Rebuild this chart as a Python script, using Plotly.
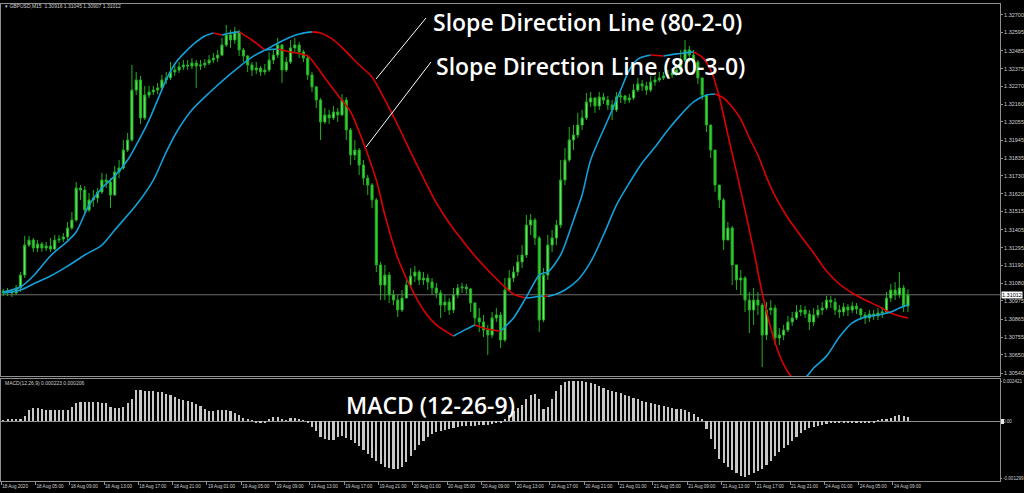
import pandas as pd
import plotly.graph_objects as go

# ---------------- data ----------------
times = list(pd.date_range("2020-08-18 01:15", periods=190, freq="30min")) + \
        list(pd.date_range("2020-08-24 00:15", periods=22, freq="30min"))

open_ = [1.31023, 1.31035, 1.31029, 1.31023, 1.31053, 1.31131, 1.31312, 1.31342, 1.31294, 1.31318,
         1.31294, 1.31306, 1.31288, 1.31342, 1.31348, 1.31361, 1.31415, 1.31463, 1.31656, 1.31644,
         1.31523, 1.31584, 1.31596, 1.31632, 1.31704, 1.31692, 1.31614, 1.31753, 1.31777, 1.31885,
         1.31946, 1.32247, 1.32308, 1.32078, 1.32217, 1.32235, 1.32247, 1.32260, 1.32308, 1.32320,
         1.32356, 1.32368, 1.32386, 1.32398, 1.32392, 1.32410, 1.32392, 1.32398, 1.32410, 1.32428,
         1.32440, 1.32458, 1.32519, 1.32580, 1.32549, 1.32598, 1.32489, 1.32452, 1.32398, 1.32368,
         1.32380, 1.32356, 1.32368, 1.32428, 1.32458, 1.32519, 1.32368, 1.32416, 1.32501, 1.32519,
         1.32477, 1.32440, 1.32338, 1.32266, 1.32187, 1.32054, 1.32097, 1.32079, 1.32115, 1.32097,
         1.32187, 1.32006, 1.31855, 1.31885, 1.31795, 1.31716, 1.31674, 1.31584, 1.31192, 1.31071,
         1.31131, 1.31011, 1.30980, 1.30920, 1.30992, 1.31071, 1.31125, 1.31149, 1.31101, 1.31113,
         1.31089, 1.31053, 1.31023, 1.30950, 1.30968, 1.30920, 1.31011, 1.31053, 1.31059, 1.31047,
         1.30962, 1.30872, 1.30848, 1.30799, 1.30769, 1.30872, 1.30890, 1.30739, 1.31041, 1.31113,
         1.31149, 1.31210, 1.31252, 1.31433, 1.31463, 1.31355, 1.30860, 1.31131, 1.31312, 1.31355,
         1.31433, 1.31704, 1.31825, 1.31946, 1.31976, 1.32036, 1.32079, 1.32175, 1.32199, 1.32151,
         1.32205, 1.32187, 1.32157, 1.32127, 1.32205, 1.32211, 1.32187, 1.32199, 1.32247, 1.32284,
         1.32272, 1.32247, 1.32296, 1.32308, 1.32320, 1.32332, 1.32338, 1.32350, 1.32368, 1.32428,
         1.32489, 1.32458, 1.32416, 1.32320, 1.32217, 1.32036, 1.31885, 1.31674, 1.31584, 1.31342,
         1.31415, 1.31192, 1.31101, 1.31113, 1.30980, 1.30920, 1.30980, 1.30950, 1.30769, 1.30920,
         1.30932, 1.30751, 1.30769, 1.30799, 1.30848, 1.30872, 1.30908, 1.30920, 1.30896, 1.30848,
         1.30890, 1.30920, 1.30932, 1.30980, 1.30968, 1.30920, 1.30908, 1.30938, 1.30920, 1.30944,
         1.30926, 1.30890, 1.30872, 1.30896, 1.30884, 1.30902, 1.30908, 1.30992, 1.31041, 1.31011,
         1.31053, 1.30944]

high = [1.31047, 1.31053, 1.31047, 1.31071, 1.31149, 1.31367, 1.31367, 1.31355, 1.31342, 1.31330,
        1.31330, 1.31355, 1.31373, 1.31373, 1.31385, 1.31451, 1.31511, 1.31692, 1.31674, 1.31668,
        1.31626, 1.31644, 1.31656, 1.31747, 1.31741, 1.31716, 1.31789, 1.31825, 1.31946, 1.31988,
        1.32398, 1.32356, 1.32332, 1.32272, 1.32272, 1.32272, 1.32290, 1.32338, 1.32356, 1.32416,
        1.32404, 1.32416, 1.32428, 1.32428, 1.32440, 1.32428, 1.32428, 1.32434, 1.32458, 1.32470,
        1.32489, 1.32562, 1.32640, 1.32610, 1.32628, 1.32610, 1.32501, 1.32458, 1.32416, 1.32416,
        1.32392, 1.32404, 1.32477, 1.32489, 1.32562, 1.32525, 1.32446, 1.32549, 1.32562, 1.32537,
        1.32489, 1.32452, 1.32356, 1.32272, 1.32199, 1.32139, 1.32127, 1.32151, 1.32139, 1.32223,
        1.32205, 1.32018, 1.31946, 1.31897, 1.31825, 1.31735, 1.31686, 1.31596, 1.31210, 1.31192,
        1.31149, 1.31041, 1.31011, 1.31041, 1.31101, 1.31173, 1.31185, 1.31161, 1.31149, 1.31137,
        1.31113, 1.31083, 1.31041, 1.31011, 1.30992, 1.31053, 1.31077, 1.31083, 1.31077, 1.31053,
        1.30968, 1.30932, 1.30890, 1.30830, 1.30908, 1.30932, 1.30908, 1.31113, 1.31161, 1.31185,
        1.31252, 1.31312, 1.31493, 1.31499, 1.31475, 1.31367, 1.31173, 1.31373, 1.31403, 1.31463,
        1.31825, 1.31897, 1.32024, 1.32036, 1.32109, 1.32127, 1.32229, 1.32235, 1.32205, 1.32235,
        1.32229, 1.32211, 1.32187, 1.32235, 1.32235, 1.32217, 1.32223, 1.32284, 1.32320, 1.32308,
        1.32296, 1.32332, 1.32332, 1.32356, 1.32356, 1.32368, 1.32380, 1.32392, 1.32489, 1.32549,
        1.32513, 1.32489, 1.32428, 1.32320, 1.32217, 1.32036, 1.31885, 1.31674, 1.31596, 1.31451,
        1.31427, 1.31192, 1.31161, 1.31125, 1.31029, 1.31053, 1.31029, 1.30962, 1.30968, 1.30980,
        1.30950, 1.30811, 1.30830, 1.30884, 1.30908, 1.30950, 1.30950, 1.30944, 1.30920, 1.30932,
        1.30950, 1.30968, 1.31005, 1.31005, 1.30992, 1.30950, 1.30962, 1.30956, 1.30968, 1.30962,
        1.30932, 1.30908, 1.30920, 1.30920, 1.30932, 1.30938, 1.31029, 1.31077, 1.31089, 1.31149,
        1.31071, 1.31045]

low = [1.31005, 1.31005, 1.30999, 1.31011, 1.31029, 1.31113, 1.31300, 1.31270, 1.31270, 1.31270,
       1.31276, 1.31270, 1.31282, 1.31324, 1.31330, 1.31342, 1.31403, 1.31451, 1.31584, 1.31505,
       1.31511, 1.31542, 1.31566, 1.31620, 1.31656, 1.31535, 1.31608, 1.31716, 1.31765, 1.31873,
       1.31934, 1.32217, 1.32042, 1.32066, 1.32199, 1.32217, 1.32223, 1.32247, 1.32284, 1.32308,
       1.32332, 1.32350, 1.32368, 1.32368, 1.32374, 1.32260, 1.32368, 1.32380, 1.32398, 1.32410,
       1.32416, 1.32452, 1.32507, 1.32501, 1.32525, 1.32452, 1.32416, 1.32356, 1.32332, 1.32344,
       1.32332, 1.32338, 1.32356, 1.32404, 1.32440, 1.32290, 1.32356, 1.32404, 1.32477, 1.32440,
       1.32416, 1.32308, 1.32235, 1.32139, 1.31946, 1.32042, 1.32042, 1.32066, 1.32054, 1.32091,
       1.31946, 1.31795, 1.31825, 1.31735, 1.31674, 1.31614, 1.31535, 1.31149, 1.30980, 1.30980,
       1.30962, 1.30950, 1.30878, 1.30908, 1.30992, 1.31053, 1.31089, 1.31071, 1.31071, 1.31041,
       1.31011, 1.30992, 1.30872, 1.30908, 1.30890, 1.30902, 1.30992, 1.31023, 1.31017, 1.30908,
       1.30830, 1.30787, 1.30757, 1.30649, 1.30751, 1.30848, 1.30691, 1.30727, 1.31029, 1.31089,
       1.31125, 1.31173, 1.31234, 1.31373, 1.31312, 1.30787, 1.30848, 1.31101, 1.31270, 1.31312,
       1.31415, 1.31674, 1.31813, 1.31885, 1.31958, 1.32006, 1.32066, 1.32145, 1.32109, 1.32127,
       1.32163, 1.32127, 1.32066, 1.32115, 1.32169, 1.32163, 1.32169, 1.32187, 1.32235, 1.32241,
       1.32217, 1.32235, 1.32272, 1.32296, 1.32308, 1.32314, 1.32320, 1.32332, 1.32356, 1.32416,
       1.32416, 1.32380, 1.32284, 1.32187, 1.31994, 1.31837, 1.31632, 1.31535, 1.31282, 1.31342,
       1.31071, 1.31041, 1.31011, 1.30908, 1.30781, 1.30830, 1.30890, 1.30576, 1.30739, 1.30890,
       1.30709, 1.30709, 1.30739, 1.30787, 1.30824, 1.30860, 1.30884, 1.30872, 1.30799, 1.30824,
       1.30872, 1.30890, 1.30920, 1.30932, 1.30890, 1.30872, 1.30884, 1.30884, 1.30902, 1.30896,
       1.30860, 1.30836, 1.30848, 1.30860, 1.30860, 1.30872, 1.30896, 1.30968, 1.30980, 1.30992,
       1.30908, 1.30907]

close = [1.31035, 1.31029, 1.31023, 1.31053, 1.31131, 1.31312, 1.31342, 1.31294, 1.31318, 1.31294,
         1.31306, 1.31288, 1.31342, 1.31348, 1.31361, 1.31415, 1.31463, 1.31656, 1.31644, 1.31523,
         1.31584, 1.31596, 1.31632, 1.31704, 1.31692, 1.31614, 1.31753, 1.31777, 1.31885, 1.31946,
         1.32247, 1.32308, 1.32078, 1.32217, 1.32235, 1.32247, 1.32260, 1.32308, 1.32320, 1.32356,
         1.32368, 1.32386, 1.32398, 1.32392, 1.32410, 1.32392, 1.32398, 1.32410, 1.32428, 1.32440,
         1.32458, 1.32519, 1.32580, 1.32549, 1.32598, 1.32489, 1.32452, 1.32398, 1.32368, 1.32380,
         1.32356, 1.32368, 1.32428, 1.32458, 1.32519, 1.32368, 1.32416, 1.32501, 1.32519, 1.32477,
         1.32440, 1.32338, 1.32266, 1.32187, 1.32054, 1.32097, 1.32079, 1.32115, 1.32097, 1.32187,
         1.32006, 1.31855, 1.31885, 1.31795, 1.31716, 1.31674, 1.31584, 1.31192, 1.31071, 1.31131,
         1.31011, 1.30980, 1.30920, 1.30992, 1.31071, 1.31125, 1.31149, 1.31101, 1.31113, 1.31089,
         1.31053, 1.31023, 1.30950, 1.30968, 1.30920, 1.31011, 1.31053, 1.31059, 1.31047, 1.30962,
         1.30872, 1.30848, 1.30799, 1.30769, 1.30872, 1.30890, 1.30739, 1.31041, 1.31113, 1.31149,
         1.31210, 1.31252, 1.31433, 1.31463, 1.31355, 1.30860, 1.31131, 1.31312, 1.31355, 1.31433,
         1.31704, 1.31825, 1.31946, 1.31976, 1.32036, 1.32079, 1.32175, 1.32199, 1.32151, 1.32205,
         1.32187, 1.32157, 1.32127, 1.32205, 1.32211, 1.32187, 1.32199, 1.32247, 1.32284, 1.32272,
         1.32247, 1.32296, 1.32308, 1.32320, 1.32332, 1.32338, 1.32350, 1.32368, 1.32428, 1.32489,
         1.32458, 1.32416, 1.32320, 1.32217, 1.32036, 1.31885, 1.31674, 1.31584, 1.31342, 1.31415,
         1.31192, 1.31101, 1.31113, 1.30980, 1.30920, 1.30980, 1.30950, 1.30769, 1.30920, 1.30932,
         1.30751, 1.30769, 1.30799, 1.30848, 1.30872, 1.30908, 1.30920, 1.30896, 1.30848, 1.30890,
         1.30920, 1.30932, 1.30980, 1.30968, 1.30920, 1.30908, 1.30938, 1.30920, 1.30944, 1.30926,
         1.30890, 1.30872, 1.30896, 1.30884, 1.30902, 1.30908, 1.30992, 1.31041, 1.31011, 1.31053,
         1.30944, 1.31012]

macd_hist = [0.00003, 0.000061, 0.000061, 0.000091, 0.000121, 0.000303, 0.000666, 0.000787, 0.000787, 0.000726,
             0.000666, 0.000666, 0.000666, 0.000666, 0.000666, 0.000666, 0.000847, 0.001089, 0.00115, 0.00115,
             0.00115, 0.00115, 0.00115, 0.001089, 0.001089, 0.000847, 0.000787, 0.000787, 0.000847, 0.001089,
             0.001331, 0.001876, 0.001876, 0.001815, 0.001815, 0.001815, 0.001755, 0.001755, 0.001634, 0.001573,
             0.001452, 0.001331, 0.001271, 0.00121, 0.00115, 0.001029, 0.000908, 0.000726, 0.000605, 0.000605,
             0.000666, 0.000666, 0.000666, 0.000605, 0.000484, 0.000363, 0.000182, 0.000121, 0.00003, -0.000061,
             -0.000091, -0.000121, 0.000061, 0.000242, 0.000272, 0.000121, 0.00003, 0.000182, 0.000182, 0.000121,
             0.00003, -0.000121, -0.000363, -0.000605, -0.000968, -0.001089, -0.00115, -0.00115, -0.000968, -0.000908,
             -0.001029, -0.00115, -0.001331, -0.001513, -0.001755, -0.001997, -0.002239, -0.00242, -0.002602, -0.002783,
             -0.002844, -0.002904, -0.002904, -0.002783, -0.002481, -0.002118, -0.001755, -0.001452, -0.00121, -0.000968,
             -0.000787, -0.000666, -0.000605, -0.000545, -0.000484, -0.000424, -0.000363, -0.000303, -0.000303, -0.000303,
             -0.000303, -0.000242, -0.000242, -0.000242, -0.000182, -0.000121, -0.000121, 0.000121, 0.000363, 0.000605,
             0.000787, 0.000968, 0.001331, 0.001573, 0.001634, 0.001331, 0.000726, 0.000847, 0.001331, 0.001815,
             0.002178, 0.00236, 0.00242, 0.002421, 0.00242, 0.00242, 0.00236, 0.002299, 0.002239, 0.002118,
             0.001997, 0.001876, 0.001815, 0.001755, 0.001694, 0.001573, 0.001513, 0.001392, 0.001331, 0.00121,
             0.00115, 0.001089, 0.001029, 0.000968, 0.000908, 0.000847, 0.000787, 0.000726, 0.000726, 0.000666,
             0.000545, 0.000424, 0.000242, 0.000061, -0.000484, -0.001089, -0.001694, -0.002299, -0.002541, -0.002783,
             -0.002965, -0.003146, -0.003328, -0.003388, -0.003267, -0.003146, -0.003025, -0.002904, -0.002662, -0.00242,
             -0.002118, -0.001876, -0.001634, -0.001452, -0.00121, -0.000968, -0.000726, -0.000545, -0.000424, -0.000363,
             -0.000303, -0.000242, -0.000182, -0.000121, -0.000121, -0.000121, -0.000061, -0.000061, -0.000121, -0.000121,
             -0.000121, -0.000121, -0.000061, -0.000061, 0.00003, 0.000061, 0.000121, 0.000182, 0.000303, 0.000363,
             0.000303, 0.000223]

# Slope Direction Line (80-3-0): bar index -> value
sdl_fast_idx = [0, 4, 7, 11, 15, 17, 20, 23, 26, 29, 31, 34, 38, 40, 42, 45, 47, 49, 51, 53,
                55, 58, 61, 64, 67, 71, 73, 75, 78, 81, 84, 87, 89, 92, 95, 98, 101, 105, 108, 110,
                113, 116, 119, 122, 125, 126, 127, 130, 133, 135, 137, 141, 144, 146, 148, 151, 154, 157, 159, 161,
                163, 165, 167, 169, 171, 173, 175, 177, 179, 181, 183, 185, 187, 189, 192, 195, 198, 201, 204, 207,
                209, 211]
sdl_fast_val = [1.31029, 1.31059, 1.31125, 1.31246, 1.31336, 1.31391, 1.31553, 1.31656, 1.31728, 1.31825,
                1.31915, 1.32066, 1.32308, 1.32404, 1.32465, 1.32537, 1.32573, 1.32591, 1.32579, 1.32591,
                1.32598, 1.32549, 1.32489, 1.32495, 1.32477, 1.32452, 1.32392, 1.32320, 1.32217, 1.32115,
                1.31928, 1.31704, 1.31493, 1.31234, 1.31059, 1.30920, 1.30830, 1.30763, 1.30805, 1.30830,
                1.30805, 1.30793, 1.30872, 1.30999, 1.31131, 1.31143, 1.31149, 1.31252, 1.31463, 1.31614,
                1.31825, 1.32066, 1.32247, 1.32368, 1.32434, 1.32458, 1.32452, 1.32465, 1.32471, 1.32477,
                1.32446, 1.32368, 1.32205, 1.31976, 1.31753, 1.31523, 1.31282, 1.31023, 1.30811, 1.30649,
                1.30546, 1.30480, 1.30510, 1.30570, 1.30642, 1.30757, 1.30842, 1.30878, 1.30890, 1.30908,
                1.30932, 1.30950]

# Slope Direction Line (80-2-0)
sdl_slow_idx = [0, 4, 7, 11, 15, 19, 23, 26, 31, 35, 38, 41, 44, 48, 53, 58, 62, 65, 69, 72,
                74, 77, 80, 83, 86, 89, 92, 95, 98, 101, 104, 107, 110, 113, 116, 119, 122, 124, 126, 127,
                129, 131, 134, 137, 140, 143, 146, 149, 152, 155, 158, 161, 164, 166, 168, 170, 172, 174, 176, 178,
                180, 183, 186, 189, 192, 195, 198, 201, 204, 207, 209, 211]
sdl_slow_val = [1.31023, 1.31041, 1.31077, 1.31125, 1.31185, 1.31252, 1.31312, 1.31403, 1.31553, 1.31704,
                1.31873, 1.32018, 1.32127, 1.32229, 1.32344, 1.32446, 1.32501, 1.32543, 1.32585, 1.32598,
                1.32591, 1.32549, 1.32477, 1.32398, 1.32326, 1.32187, 1.32036, 1.31873, 1.31716, 1.31566,
                1.31445, 1.31342, 1.31246, 1.31161, 1.31083, 1.31017, 1.30992, 1.30999, 1.31005, 1.31002,
                1.31017, 1.31041, 1.31101, 1.31210, 1.31373, 1.31553, 1.31686, 1.31807, 1.31903, 1.32006,
                1.32097, 1.32175, 1.32217, 1.32223, 1.32199, 1.32145, 1.32072, 1.31958, 1.31855, 1.31722,
                1.31608, 1.31475, 1.31367, 1.31264, 1.31155, 1.31077, 1.31023, 1.30980, 1.30944, 1.30902,
                1.30884, 1.30872]

price_ticks = [1.32700, 1.32595, 1.32485, 1.32375, 1.32270, 1.32160, 1.32055, 1.31945, 1.31835, 1.31730,
               1.31620, 1.31515, 1.31405, 1.31295, 1.31190, 1.31080, 1.30975, 1.30865, 1.30755, 1.30650, 1.30540]
macd_tick_vals = [0.00242, 0.0, -0.003449]
macd_tick_text = ["0.002421", "0.00", "-0.001299"]

time_tick_vals = ["2020-08-18 01:00", "2020-08-18 05:00", "2020-08-18 09:00", "2020-08-18 13:00",
                  "2020-08-18 17:00", "2020-08-18 21:00", "2020-08-19 01:00", "2020-08-19 05:00",
                  "2020-08-19 09:00", "2020-08-19 13:00", "2020-08-19 17:00", "2020-08-19 21:00",
                  "2020-08-20 01:00", "2020-08-20 05:00", "2020-08-20 09:00", "2020-08-20 13:00",
                  "2020-08-20 17:00", "2020-08-20 21:00", "2020-08-21 01:00", "2020-08-21 05:00",
                  "2020-08-21 09:00", "2020-08-21 13:00", "2020-08-21 17:00", "2020-08-21 21:00",
                  "2020-08-24 01:00", "2020-08-24 05:00", "2020-08-24 09:00"]
time_tick_text = ["18 Aug 2020", "18 Aug 05:00", "18 Aug 09:00", "18 Aug 13:00", "18 Aug 17:00",
                  "18 Aug 21:00", "19 Aug 01:00", "19 Aug 05:00", "19 Aug 09:00", "19 Aug 13:00",
                  "19 Aug 17:00", "19 Aug 21:00", "20 Aug 01:00", "20 Aug 05:00", "20 Aug 09:00",
                  "20 Aug 13:00", "20 Aug 17:00", "20 Aug 21:00", "21 Aug 01:00", "21 Aug 05:00",
                  "21 Aug 09:00", "21 Aug 13:00", "21 Aug 17:00", "21 Aug 21:00", "24 Aug 01:00",
                  "24 Aug 05:00", "24 Aug 09:00"]
last_price = 1.31012

# ---------------- styling ----------------
W, H = 1024, 493
ML, MR, MT, MB = 1, 24, 4, 12
PW, PH = W - ML - MR, H - MT - MB
BLUE = "#139fd8"
RED = "#dc0000"
GRAY = "#8f8f8f"
TXT = "#cfcfcf"
SMALL = "Liberation Sans, Arial, sans-serif"
BIG = "Open Sans, Lato, sans-serif"


def px(x):
    return (x - ML) / PW


def py(y):
    return (MT + PH - y) / PH


main_dom = [py(376), 1.0]
macd_dom = [0.0, py(379)]
x_range = ["2020-08-18 00:59", "2020-08-24 21:29"]

fig = go.Figure()

fig.add_trace(go.Candlestick(
    x=times, open=open_, high=high, low=low, close=close,
    increasing=dict(line=dict(color="#22b022", width=1), fillcolor="#6cec6c"),
    decreasing=dict(line=dict(color="#22b022", width=1), fillcolor="#36d236"),
    whiskerwidth=0, xaxis="x", yaxis="y", hoverinfo="skip", showlegend=False))


def add_slope_line(idx, vals):
    xs = [times[i] for i in idx]
    n = len(vals)
    k = 0
    while k < n - 1:
        up = vals[k + 1] >= vals[k]
        m = k
        while m < n - 1 and (vals[m + 1] >= vals[m]) == up:
            m += 1
        fig.add_trace(go.Scatter(
            x=xs[k:m + 1], y=vals[k:m + 1], mode="lines",
            line=dict(color=BLUE if up else RED, width=1.6, shape="spline", smoothing=0.8),
            xaxis="x", yaxis="y", hoverinfo="skip", showlegend=False))
        k = m


add_slope_line(sdl_slow_idx, sdl_slow_val)
add_slope_line(sdl_fast_idx, sdl_fast_val)

fig.add_trace(go.Bar(
    x=times, y=macd_hist, width=15 * 60 * 1000, marker=dict(color="#c8c8c8", line=dict(width=0)),
    xaxis="x2", yaxis="y2", hoverinfo="skip", showlegend=False))

axis_common = dict(showgrid=False, zeroline=False, showline=True, mirror=True,
                   linecolor=GRAY, linewidth=1, automargin=False)

fig.update_layout(
    width=W, height=H,
    margin=dict(l=ML, r=MR, t=MT, b=MB, autoexpand=False),
    paper_bgcolor="black", plot_bgcolor="black",
    showlegend=False,
    bargap=0,
    xaxis=dict(domain=[0, 1], anchor="y", range=x_range, type="date",
               rangebreaks=[dict(bounds=["sat", "mon"])],
               showticklabels=False, ticks="", rangeslider=dict(visible=False),
               matches="x2", **axis_common),
    yaxis=dict(domain=main_dom, anchor="x", side="right", range=[1.30522, 1.32766],
               tickvals=price_ticks, tickformat=".5f", ticks="outside", ticklen=2,
               tickcolor=GRAY, tickfont=dict(family=SMALL, size=5.5, color=TXT), **axis_common),
    xaxis2=dict(domain=[0, 1], anchor="y2", range=x_range, type="date",
                rangebreaks=[dict(bounds=["sat", "mon"])],
                tickvals=time_tick_vals, ticktext=time_tick_text, ticks="outside", ticklen=3,
                tickcolor=GRAY, ticklabelposition="outside right", tickangle=0,
                tickfont=dict(family=SMALL, size=4.6, color=TXT), **axis_common),
    yaxis2=dict(domain=macd_dom, anchor="x2", side="right", range=[-0.00363, 0.002541],
                tickvals=macd_tick_vals, ticktext=macd_tick_text, ticks="outside", ticklen=1,
                tickcolor=GRAY, tickfont=dict(family=SMALL, size=4.6, color=TXT),
                showgrid=False, showline=True, mirror=True, linecolor=GRAY, linewidth=1,
                automargin=False, zeroline=True, zerolinecolor=GRAY, zerolinewidth=1),
)

shapes = [
    dict(type="line", xref="paper", yref="y", x0=0, x1=1, y0=last_price, y1=last_price,
         line=dict(color="#6c6c6c", width=1), layer="below"),
    dict(type="line", xref="paper", yref="paper", x0=px(426), y0=py(18), x1=px(376), y1=py(79),
         line=dict(color="white", width=1)),
    dict(type="line", xref="paper", yref="paper", x0=px(431), y0=py(62), x1=px(366), y1=py(147),
         line=dict(color="white", width=1)),
    dict(type="rect", xref="paper", yref="paper", x0=px(1001), x1=px(1004), y0=py(424), y1=py(419),
         fillcolor="#e6e6e6", line=dict(width=0)),
]
fig.update_layout(shapes=shapes)

annotations = [
    dict(text="\u25be GBPUSD,M15  1.30916 1.31045 1.30907 1.31012", xref="paper", yref="paper",
         x=px(3), y=py(6), xanchor="left", yanchor="middle", showarrow=False,
         font=dict(family=SMALL, size=5, color=TXT)),
    dict(text="MACD(12,26,9) 0.000223 0.000206", xref="paper", yref="paper",
         x=px(3), y=py(383), xanchor="left", yanchor="middle", showarrow=False,
         font=dict(family=SMALL, size=5, color=TXT)),
    dict(text="1.31012", xref="paper", yref="y", x=px(1001), y=last_price, xanchor="left",
         yanchor="middle", showarrow=False, bgcolor="white", borderpad=0,
         font=dict(family=SMALL, size=5.5, color="black")),
    dict(text="Slope Direction Line (80-2-0)", xref="paper", yref="paper",
         x=px(431), y=py(22), xanchor="left", yanchor="middle", showarrow=False,
         font=dict(family=BIG, size=23, color="white", weight=600)),
    dict(text="Slope Direction Line (80-3-0)", xref="paper", yref="paper",
         x=px(434), y=py(66), xanchor="left", yanchor="middle", showarrow=False,
         font=dict(family=BIG, size=23, color="white", weight=600)),
    dict(text="MACD (12-26-9)", xref="paper", yref="paper",
         x=px(344), y=py(405), xanchor="left", yanchor="middle", showarrow=False,
         font=dict(family=BIG, size=23, color="white", weight=600)),
]
fig.update_layout(annotations=annotations)

fig.write_html("out.html", config={"displayModeBar": False},
               post_script="document.body.style.margin='0px';document.body.style.overflow='hidden';")
